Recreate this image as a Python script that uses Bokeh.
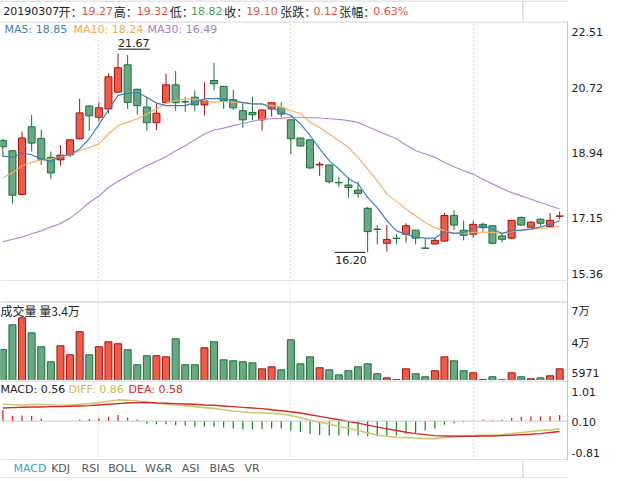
import numpy as np
from bokeh.plotting import figure
from bokeh.models import Range1d, FixedTicker, Grid, Span, Label, Div, ColumnDataSource
from bokeh.layouts import column, row
from bokeh.embed import file_html
from bokeh.resources import INLINE
from bokeh.core.properties import value

# ---------------- data ----------------
first_date = "20190307"
opens = [19.27, 18.99, 17.79, 19.65, 19.33, 18.81, 18.74, 18.88, 19.32, 20.22,
         19.91, 20.14, 20.60, 21.35, 20.68, 20.19, 19.76, 20.31, 20.80, 20.34,
         20.46, 20.25, 20.92, 20.76, 20.39, 20.09, 20.04, 19.84, 20.14, 20.17,
         19.84, 19.34, 19.29, 18.60, 18.60, 18.12, 18.05, 17.91, 17.41, 16.84,
         16.45, 16.59, 16.70, 16.81, 16.32, 16.43, 16.51, 17.21, 16.81, 16.70,
         16.97, 16.93, 16.65, 16.59, 17.16, 16.89, 17.11, 16.91, 17.19]
highs = [19.32, 19.00, 19.52, 19.98, 19.56, 18.97, 19.15, 19.30, 20.42, 20.23,
         20.32, 21.12, 21.67, 21.62, 20.69, 20.46, 20.29, 21.11, 21.18, 20.46,
         20.65, 20.87, 21.41, 20.77, 20.66, 20.32, 20.48, 20.12, 20.32, 20.32,
         19.85, 19.35, 19.30, 18.69, 18.61, 18.28, 18.26, 18.14, 17.45, 16.95,
         16.95, 16.70, 17.00, 16.82, 16.59, 16.59, 17.29, 17.36, 17.07, 17.07,
         17.02, 16.94, 16.74, 17.09, 17.18, 17.05, 17.14, 17.29, 17.32]
lows = [18.82, 17.54, 17.77, 18.97, 18.60, 18.22, 18.58, 18.82, 19.30, 19.54,
        19.80, 20.02, 20.58, 20.14, 19.98, 19.54, 19.56, 20.30, 20.09, 20.06,
        20.07, 19.96, 20.65, 20.14, 20.11, 19.62, 19.82, 19.54, 19.93, 19.91,
        18.90, 19.10, 18.48, 18.30, 18.09, 18.00, 17.70, 17.70, 16.20, 16.42,
        16.22, 16.42, 16.47, 16.42, 16.31, 16.42, 16.49, 16.81, 16.53, 16.60,
        16.77, 16.42, 16.47, 16.57, 16.94, 16.89, 16.93, 16.88, 17.11]
closes = [19.10, 17.77, 19.34, 19.20, 18.76, 18.38, 18.87, 19.29, 20.03, 19.95,
          20.17, 21.02, 21.27, 20.32, 20.23, 19.76, 20.02, 20.80, 20.31, 20.33,
          20.25, 20.37, 20.83, 20.37, 20.17, 19.84, 19.98, 20.11, 20.31, 20.00,
          19.32, 19.12, 18.52, 18.62, 18.14, 18.11, 17.98, 17.82, 16.77, 16.83,
          16.55, 16.58, 16.93, 16.59, 16.31, 16.53, 17.21, 16.95, 16.67, 16.97,
          16.88, 16.45, 16.56, 17.08, 16.95, 17.03, 17.00, 17.08, 17.20]
volumes = [34200, 57300, 63800, 49800, 36800, 22800, 37700, 29300, 50800, 29300,
           36800, 41400, 39600, 34000, 20000, 28400, 28400, 27400, 44200, 20000,
           20000, 35800, 41400, 24600, 23700, 22800, 21800, 16200, 18100, 15300,
           43300, 20900, 27400, 17200, 15300, 10600, 14400, 18100, 20900, 11600,
           7800, 6300, 16200, 11600, 8800, 14400, 27400, 23700, 14400, 12500,
           6300, 8800, 5971, 12500, 8800, 6900, 7800, 9700, 16200]
ma5 = [18.85, 18.81, 18.93, 18.88, 18.76, 18.70, 18.85, 18.88, 19.04, 19.32,
       19.71, 20.11, 20.51, 20.57, 20.59, 20.46, 20.30, 20.23, 20.23, 20.23,
       20.32, 20.42, 20.42, 20.42, 20.37, 20.31, 20.28, 20.28, 20.17, 20.05,
       19.96, 19.73, 19.41, 19.04, 18.72, 18.49, 18.23, 18.08, 17.71, 17.43,
       17.07, 16.79, 16.70, 16.62, 16.59, 16.59, 16.77, 16.72, 16.74, 16.86,
       16.93, 16.84, 16.72, 16.79, 16.81, 16.84, 16.90, 16.97, 17.07]
ma10 = [18.24, 18.39, 18.58, 18.67, 18.74, 18.76, 18.83, 18.88, 18.99, 19.08,
        19.18, 19.45, 19.68, 19.77, 19.87, 20.00, 20.14, 20.30, 20.37, 20.41,
        20.41, 20.37, 20.32, 20.35, 20.32, 20.32, 20.28, 20.26, 20.23, 20.19,
        20.09, 20.02, 19.77, 19.63, 19.45, 19.27, 19.08, 18.81, 18.49, 18.17,
        17.80, 17.60, 17.39, 17.20, 17.02, 16.88, 16.79, 16.73, 16.73, 16.74,
        16.76, 16.74, 16.72, 16.77, 16.81, 16.84, 16.85, 16.88, 16.92]
ma30 = [16.49, 16.56, 16.62, 16.71, 16.79, 16.90, 16.99, 17.14, 17.34, 17.57,
        17.75, 17.98, 18.15, 18.30, 18.44, 18.58, 18.70, 18.83, 18.99, 19.13,
        19.29, 19.45, 19.56, 19.61, 19.68, 19.74, 19.80, 19.85, 19.87, 19.88,
        19.91, 19.91, 19.90, 19.89, 19.87, 19.85, 19.82, 19.77, 19.65, 19.54,
        19.43, 19.32, 19.15, 18.99, 18.90, 18.81, 18.67, 18.55, 18.44, 18.35,
        18.21, 18.08, 17.95, 17.84, 17.75, 17.66, 17.57, 17.48, 17.39]
diff = [0.64, 0.62, 0.61, 0.62, 0.63, 0.61, 0.60, 0.61, 0.63, 0.65,
        0.68, 0.72, 0.76, 0.75, 0.73, 0.68, 0.66, 0.63, 0.61, 0.59,
        0.56, 0.53, 0.51, 0.47, 0.43, 0.40, 0.38, 0.37, 0.36, 0.34,
        0.30, 0.23, 0.16, 0.10, 0.04, -0.02, -0.08, -0.15, -0.22, -0.28,
        -0.32, -0.35, -0.36, -0.37, -0.39, -0.39, -0.36, -0.33, -0.31, -0.30,
        -0.29, -0.29, -0.27, -0.24, -0.21, -0.18, -0.15, -0.13, -0.10]
dea = [0.52, 0.53, 0.54, 0.55, 0.55, 0.56, 0.56, 0.57, 0.58, 0.59,
       0.61, 0.63, 0.65, 0.67, 0.68, 0.69, 0.67, 0.66, 0.65, 0.64,
       0.63, 0.61, 0.60, 0.58, 0.56, 0.54, 0.52, 0.50, 0.47, 0.44,
       0.41, 0.37, 0.32, 0.27, 0.22, 0.17, 0.12, 0.07, 0.01, -0.05,
       -0.10, -0.15, -0.20, -0.24, -0.27, -0.30, -0.31, -0.32, -0.32, -0.32,
       -0.31, -0.31, -0.30, -0.29, -0.27, -0.26, -0.24, -0.21, -0.18]
macd_hist = [0.33, 0.16, 0.17, 0.15, 0.08, 0.005, 0.005, 0.01, 0.05, 0.06,
             0.09, 0.13, 0.18, 0.11, 0.05, -0.07, -0.09, -0.09, -0.12, -0.14,
             -0.16, -0.17, -0.17, -0.19, -0.22, -0.24, -0.24, -0.24, -0.22, -0.22,
             -0.27, -0.32, -0.38, -0.41, -0.43, -0.43, -0.43, -0.43, -0.45, -0.46,
             -0.43, -0.43, -0.38, -0.35, -0.28, -0.23, -0.11, -0.06, -0.03, 0.005,
             0.04, 0.03, 0.05, 0.09, 0.12, 0.14, 0.14, 0.15, 0.18]
macd_base = 0.13
change, change_pct = 0.12, 0.63
macd_now, diff_now, dea_now = 0.56, 0.86, 0.58
month_marks = [10, 30, 49]
price_ticks = [15.36, 17.15, 18.94, 20.72, 22.51]
vol_ticks = [min(volumes), 40000, 70000]
vol_tick_labels = [str(min(volumes)), "4万", "7万"]
macd_ticks = [-0.81, 0.10, 1.01]
tabs = ["MACD", "KDJ", "RSI", "BOLL", "W&R", "ASI", "BIAS", "VR"]

# ---------------- layout & style ----------------
W_MAIN = 616
FRAME_W = 567
RIGHT_W = W_MAIN - FRAME_W
PX_PER_BAR = 9.6
X0_PX = 2.35
H_HEAD, H_PRICE, H_VOL, H_MACD, H_TABS = 21, 260, 99, 80, 18

GRID = "#c8c8c8"
DOT = "#b4b4b4"
RED_FILL, RED_LINE = "#ef5b47", "#a31212"
GRN_FILL, GRN_LINE = "#6aa882", "#17703a"
RED_TXT, GRN_TXT = "#e5533d", "#4e9a63"
TEXT = "#222222"
FONT = "DejaVu Sans"
CJK = "Noto Sans CJK SC"
MIX = "DejaVu Sans, Noto Sans CJK SC"

n = len(closes)
idx = np.arange(n)
x_start = -X0_PX / PX_PER_BAR
xr = Range1d(x_start, x_start + FRAME_W / PX_PER_BAR)


def px_to_x(px):
    return x_start + px / PX_PER_BAR


def make_fig(height, y_range, x_range, axis=True):
    p = figure(width=W_MAIN, height=height, x_range=x_range, y_range=y_range,
               x_axis_location=None, y_axis_location=("right" if axis else None),
               toolbar_location=None, output_backend="svg",
               min_border_left=0, min_border_top=0, min_border_bottom=0,
               min_border_right=(RIGHT_W if axis else 0))
    p.outline_line_color = None
    p.background_fill_color = "white"
    p.border_fill_color = "white"
    for g in p.grid:
        g.visible = False
    return p


def style_axis(p, ticks, labels, pad_top=10.7, pad_bot=7.4, font=FONT):
    r = p.y_range
    ppu = p.height / (r.end - r.start)
    pos = [round(min(max(t, r.start + pad_bot / ppu), r.end - pad_top / ppu), 4) for t in ticks]
    ax = p.yaxis[0]
    ax.ticker = FixedTicker(ticks=pos)
    ax.major_label_overrides = {pp: lab for pp, lab in zip(pos, labels)}
    ax.major_tick_line_color = None
    ax.minor_tick_line_color = None
    ax.major_tick_out = 0
    ax.major_label_standoff = 4
    ax.axis_line_color = GRID
    ax.major_label_text_font = font
    ax.major_label_text_font_size = "11px"
    ax.major_label_text_color = TEXT


def add_month_grid(p):
    p.add_layout(Grid(dimension=0, ticker=FixedTicker(ticks=month_marks),
                      grid_line_color=DOT, grid_line_dash="1 3", grid_line_width=1), "center")


def hline(p, px_from_top):
    r = p.y_range
    ppu = p.height / (r.end - r.start)
    p.add_layout(Span(location=r.end - px_from_top / ppu, dimension="width",
                      line_color=GRID, line_width=1))


def label(p, x, y, text, color=TEXT, font=FONT, size="11px", align="left", bg=None):
    p.add_layout(Label(x=x, y=y, text=text, text_color=color, text_font=font,
                       text_font_size=size, text_align=align, text_baseline="middle",
                       background_fill_color=bg))


up = [c >= o for o, c in zip(opens, closes)]
src = ColumnDataSource(dict(
    x=idx, o=opens, h=highs, l=lows, c=closes, v=volumes,
    top=[max(o, c) for o, c in zip(opens, closes)],
    bottom=[min(o, c) for o, c in zip(opens, closes)],
    fill=[RED_FILL if u else GRN_FILL for u in up],
    line=[RED_LINE if u else GRN_LINE for u in up],
))

# ---------------- header ----------------
f0 = make_fig(H_HEAD, Range1d(H_HEAD, 0), Range1d(0, W_MAIN), axis=False)
f0.add_layout(Span(location=FRAME_W + 0.5, dimension="height", line_color=GRID, line_width=1))
f0.add_layout(Span(location=0.5, dimension="width", line_color=GRID, line_width=1))
header = [
    (first_date, 3, TEXT, FONT), ("开：", 63, TEXT, CJK), (f"{opens[0]:.2f}", 88, RED_TXT, FONT),
    ("高：", 123, TEXT, CJK), (f"{highs[0]:.2f}", 148, RED_TXT, FONT),
    ("低：", 184, TEXT, CJK), (f"{lows[0]:.2f}", 207, GRN_TXT, FONT),
    ("收：", 243, TEXT, CJK), (f"{closes[0]:.2f}", 267, RED_TXT, FONT),
    ("张跌：", 304, TEXT, CJK), (f"{change:.2f}", 340, RED_TXT, FONT),
    ("张幅：", 368, TEXT, CJK), (f"{change_pct:.2f}%", 405, RED_TXT, FONT),
]
for t, x, col, fnt in header:
    label(f0, x, 10.5, t, color=col, font=fnt, size=("12px" if fnt == CJK else "11px"))

# ---------------- price ----------------
f1 = make_fig(H_PRICE, Range1d(15.40, 22.54), xr)
ppu = H_PRICE / (22.54 - 15.40)
style_axis(f1, price_ticks, [f"{t:.2f}" for t in price_ticks])
add_month_grid(f1)
hline(f1, 0.5)
hline(f1, H_PRICE - 0.5)
f1.segment(x0="x", y0="l", x1="x", y1="h", line_color="line", line_width=1, source=src)
f1.vbar(x="x", width=0.73, top="top", bottom="bottom", fill_color="fill",
        line_color="line", line_width=1, source=src)
f1.line(idx, ma30, line_color="#b48ad2", line_width=1.2)
f1.line(idx, ma10, line_color="#f3b064", line_width=1.2)
f1.line(idx, ma5, line_color="#3f7fb8", line_width=1.2)

ih = int(np.argmax(highs))
il = int(np.argmin(lows))
hv, lv = highs[ih], lows[il]
gap = 4 / ppu
f1.segment(x0=[ih], y0=[hv + gap], x1=[ih + 32 / PX_PER_BAR], y1=[hv + gap],
           line_color="#111111", line_width=1)
f1.text(x=[ih], y=[hv + gap], text=[f"{hv:.2f}"], text_align="left", text_baseline="middle",
        y_offset=-6, text_font=value(FONT), text_font_size="11px", text_color=TEXT)
f1.segment(x0=[il - 33 / PX_PER_BAR], y0=[lv], x1=[il - 2 / PX_PER_BAR], y1=[lv],
           line_color="#111111", line_width=1)
f1.text(x=[il], y=[lv], text=[f"{lv:.2f}"], text_align="right", text_baseline="middle",
        x_offset=-1, y_offset=8, text_font=value(FONT), text_font_size="11px", text_color=TEXT)

y_leg = 22.54 - 8.3 / ppu
label(f1, px_to_x(4), y_leg, f"MA5: {ma5[0]:.2f}", color="#3f7fb8", bg="white")
label(f1, px_to_x(73), y_leg, f"MA10: {ma10[0]:.2f}", color="#f0a850", bg="white")
label(f1, px_to_x(147), y_leg, f"MA30: {ma30[0]:.2f}", color="#a87cc0", bg="white")

# ---------------- volume ----------------
f2 = make_fig(H_VOL, Range1d(5318, 97685), xr)
vppu = H_VOL / (97685 - 5318)
style_axis(f2, vol_ticks, vol_tick_labels, font=MIX)
add_month_grid(f2)
hline(f2, 20.5)
f2.vbar(x="x", width=0.73, top="v", bottom=0, fill_color="fill", line_color="line",
        line_width=1, source=src)
label(f2, px_to_x(0), 97685 - 29 / vppu, f"成交量 量{volumes[0] / 10000:.1f}万", font=CJK, size="12px")

# ---------------- MACD ----------------
f3 = make_fig(H_MACD, Range1d(-1.040, 1.337), xr)
mppu = H_MACD / (1.337 + 1.040)
style_axis(f3, macd_ticks, [f"{t:.2f}" for t in macd_ticks])
add_month_grid(f3)
hline(f3, 0.5)
hline(f3, H_MACD - 0.5)
f3.add_layout(Span(location=macd_base, dimension="width", line_color=GRID, line_width=1))
hist_top = [macd_base + h for h in macd_hist]
hist_col = ["#e8121a" if h >= 0 else "#0d8a1c" for h in macd_hist]
f3.segment(x0=idx, y0=[macd_base] * n, x1=idx, y1=hist_top, line_color=hist_col, line_width=1.2)
f3.line(idx, diff, line_color="#d2c66e", line_width=1.6)
f3.line(idx, dea, line_color="#d42a2a", line_width=1.4)
y_mh = 1.337 - 9 / mppu
label(f3, px_to_x(0), y_mh, f"MACD: {macd_now:.2f}", color=TEXT, bg="white")
label(f3, px_to_x(68), y_mh, f"DIFF: {diff_now:.2f}", color="#c9b752", bg="white")
label(f3, px_to_x(128), y_mh, f"DEA: {dea_now:.2f}", color="#d42a2a", bg="white")

# ---------------- tabs ----------------
f4 = make_fig(H_TABS, Range1d(H_TABS, 0), Range1d(0, W_MAIN), axis=False)
f4.add_layout(Span(location=FRAME_W + 0.5, dimension="height", line_color=GRID, line_width=1))
f4.add_layout(Span(location=H_TABS - 0.5, dimension="width", line_color=GRID, line_width=1))
tab_x = [14, 55, 88, 117, 157, 197, 227, 265]
for i, (t, x) in enumerate(zip(tabs, tab_x)):
    label(f4, x, 8.3, t, color=("#3aa0d6" if i == 0 else "#555555"), size="11px")

left = column(f0, f1, f2, f3, f4, spacing=0)
border = Div(text="", width=1, height=H_HEAD + H_PRICE + H_VOL + H_MACD + H_TABS,
             styles={"background-color": GRID})
layout = row(left, border, spacing=0)

open("out.html", "w").write(file_html(layout, INLINE, title="K-line"))
